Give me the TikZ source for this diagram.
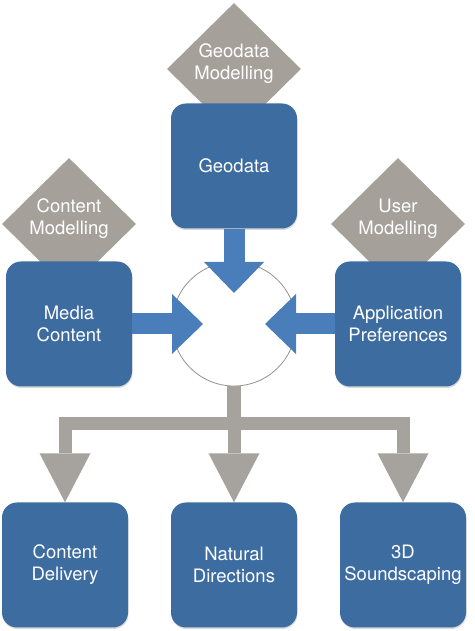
\documentclass[tikz,border=0pt]{standalone}
\usepackage{fontspec}
\setmainfont{TeX Gyre Heros}
\usetikzlibrary{arrows.meta,positioning,shapes.geometric,shadows,backgrounds}

\definecolor{boxblue}{RGB}{61,108,161}
\definecolor{arrowblue}{RGB}{74,126,187}
\definecolor{modelgrey}{RGB}{165,161,154}
\definecolor{flowgrey}{RGB}{166,163,158}
\definecolor{rimgrey}{RGB}{150,145,140}

\tikzset{
  box/.style={rectangle, rounded corners=15pt, fill=boxblue, minimum width=126pt,
    minimum height=125pt, text=white, align=center, font=\fontsize{18.5}{22}\selectfont,
    drop shadow={opacity=0.3, shadow xshift=0.5pt, shadow yshift=-1.5pt}},
  model/.style={diamond, fill=modelgrey, inner sep=0pt, minimum width=134pt,
    minimum height=132pt, text=white, align=center, text depth=14pt,
    font=\fontsize{18.5}{22}\selectfont},
  hub/.style={circle, draw=rimgrey, fill=white, line width=0.8pt, minimum size=124pt, inner sep=0pt},
  feed/.style={draw=arrowblue, line width=21pt, shorten >=31pt,
    -{Triangle[width=60pt,length=31pt,line width=0pt]}},
  fan/.style={draw=flowgrey, line width=13pt, line join=miter,
    -{Triangle[width=51pt,length=49pt,line width=0pt]}}
}

\begin{document}
\begin{tikzpicture}[x=1pt,y=1pt,node distance=160pt]
    \useasboundingbox (0,0) rectangle (474,631);

    \node[hub] (hub) at (234,307) {};
    \node[coordinate] (split) [below of=hub, node distance=100pt] {};

    \node[box] (geo)   [above of=hub, node distance=158pt] {Geodata};
    \node[box] (media) [left of=hub, node distance=165pt]  {Media\\Content};
    \node[box] (app)   [right of=hub, node distance=164pt] {Application\\Preferences};

    \node[box] (nd) [below of=hub, node distance=241pt] {Natural\\Directions};
    \node[box] (cd) [left of=nd, node distance=169pt]   {Content\\Delivery};
    \node[box] (sd) [right of=nd, node distance=169pt]  {3D\\Soundscaping};

    \begin{scope}[on background layer]
      \node[model] (geomod)  [above of=geo, node distance=97pt]    {Geodata\\Modelling};
      \node[model] (contmod) [above of=media, node distance=100pt] {Content\\Modelling};
      \node[model] (usermod) [above of=app, node distance=100pt]   {User\\Modelling};
    \end{scope}

    % inputs into the hub
    \draw[feed] (geo.south)  -- (hub.center);
    \draw[feed] (media.east) -- (hub.center);
    \draw[feed] (app.west)   -- (hub.center);

    % outputs
    \draw[draw=flowgrey, line width=14pt] (hub.south) -- (split);
    \draw[fan] (split) -| (cd.north);
    \draw[fan] (split) -- (nd.north);
    \draw[fan] (split) -| (sd.north);
\end{tikzpicture}
\end{document}
